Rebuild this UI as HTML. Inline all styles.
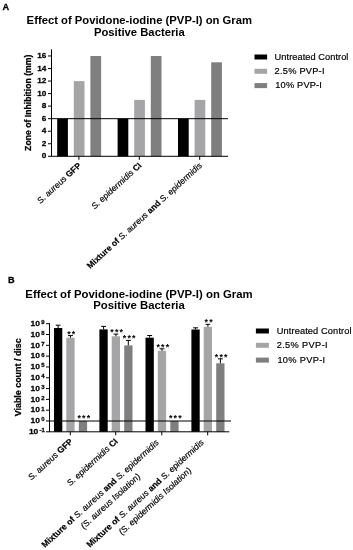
<!DOCTYPE html><html><head><meta charset="utf-8"><title>Figure</title><style>
html,body{margin:0;padding:0;background:#fff}
svg{display:block}
text{font-family:"Liberation Sans",Arial,sans-serif;fill:#000}
.b{font-weight:bold}.sl{stroke:#000;stroke-width:.18px}.st{letter-spacing:1.1px}.sk{stroke:#000;stroke-width:.25px}.i{font-style:italic}
</style></head><body>
<svg width="353" height="550" viewBox="0 0 353 550">
<rect width="353" height="550" fill="#fff"/>
<text class="b sk" font-size="8.6" transform="translate(2.50 9.80) scale(1.07 1)" xml:space="preserve">A</text>
<text class="b" font-size="10.54" text-anchor="middle" transform="translate(139.30 23.90) scale(1.07 1)" xml:space="preserve">Effect of Povidone-iodine (PVP-I) on Gram</text>
<text class="b" font-size="10.54" text-anchor="middle" transform="translate(139.30 35.70) scale(1.07 1)" xml:space="preserve">Positive Bacteria</text>
<rect x="57.2" y="118.7" width="10.7" height="37.6" fill="#000"/>
<rect x="73.8" y="81.1" width="10.7" height="75.2" fill="#a5a5a7"/>
<rect x="90.4" y="56.0" width="10.7" height="100.3" fill="#7f7f7f"/>
<rect x="117.6" y="118.7" width="10.7" height="37.6" fill="#000"/>
<rect x="134.2" y="99.9" width="10.7" height="56.4" fill="#a5a5a7"/>
<rect x="150.8" y="56.0" width="10.7" height="100.3" fill="#7f7f7f"/>
<rect x="178.0" y="118.7" width="10.7" height="37.6" fill="#000"/>
<rect x="194.6" y="99.9" width="10.7" height="56.4" fill="#a5a5a7"/>
<rect x="211.2" y="62.3" width="10.7" height="94.0" fill="#7f7f7f"/>
<g stroke="#000" stroke-width="1" fill="none">
<path d="M51.5 49.3V156.3H228"/>
<path d="M51.5 118.68H228"/>
<path d="M48.0 156.30H51.5"/>
<path d="M48.0 143.76H51.5"/>
<path d="M48.0 131.22H51.5"/>
<path d="M48.0 118.68H51.5"/>
<path d="M48.0 106.14H51.5"/>
<path d="M48.0 93.60H51.5"/>
<path d="M48.0 81.06H51.5"/>
<path d="M48.0 68.52H51.5"/>
<path d="M48.0 55.98H51.5"/>
<path d="M78.9 156.3v3.5"/>
<path d="M139.3 156.3v3.5"/>
<path d="M199.7 156.3v3.5"/>
</g>
<text class="b sk" font-size="7.7" text-anchor="end" transform="translate(46.30 158.40) scale(1.07 1)" xml:space="preserve">0</text>
<text class="b sk" font-size="7.7" text-anchor="end" transform="translate(46.30 145.86) scale(1.07 1)" xml:space="preserve">2</text>
<text class="b sk" font-size="7.7" text-anchor="end" transform="translate(46.30 133.32) scale(1.07 1)" xml:space="preserve">4</text>
<text class="b sk" font-size="7.7" text-anchor="end" transform="translate(46.30 120.78) scale(1.07 1)" xml:space="preserve">6</text>
<text class="b sk" font-size="7.7" text-anchor="end" transform="translate(46.30 108.24) scale(1.07 1)" xml:space="preserve">8</text>
<text class="b sk" font-size="7.7" text-anchor="end" transform="translate(46.30 95.70) scale(1.07 1)" xml:space="preserve">10</text>
<text class="b sk" font-size="7.7" text-anchor="end" transform="translate(46.30 83.16) scale(1.07 1)" xml:space="preserve">12</text>
<text class="b sk" font-size="7.7" text-anchor="end" transform="translate(46.30 70.62) scale(1.07 1)" xml:space="preserve">14</text>
<text class="b sk" font-size="7.7" text-anchor="end" transform="translate(46.30 58.08) scale(1.07 1)" xml:space="preserve">16</text>
<text class="b sk" font-size="8.67" text-anchor="middle" transform="translate(30.70 102.80) scale(1.07 1) rotate(-90)" xml:space="preserve">Zone of Inhibition (mm)</text>
<text class="sl" font-size="8.17" text-anchor="end" transform="translate(81.80 166.10) scale(1.07 1) rotate(-44.4)" xml:space="preserve"><tspan class="i">S. aureus </tspan><tspan class="b">GFP</tspan></text>
<text class="sl" font-size="8.17" text-anchor="end" transform="translate(142.20 166.10) scale(1.07 1) rotate(-44.4)" xml:space="preserve"><tspan class="i">S. epidermidis </tspan><tspan class="b">CI</tspan></text>
<text class="sl" font-size="8.17" text-anchor="end" transform="translate(202.60 166.10) scale(1.07 1) rotate(-44.4)" xml:space="preserve"><tspan class="b">Mixture of </tspan><tspan class="i">S. aureus </tspan><tspan class="b">and </tspan><tspan class="i">S. epidermidis</tspan></text>
<rect x="254.5" y="54.5" width="12.6" height="5" fill="#000"/>
<text class="sl" font-size="8.65" textLength="69.0" lengthAdjust="spacing" transform="translate(274.60 59.70) scale(1.07 1)" xml:space="preserve">Untreated Control</text>
<rect x="254.5" y="68.8" width="12.6" height="5" fill="#a5a5a7"/>
<text class="sl" font-size="8.65" textLength="46.6" lengthAdjust="spacing" transform="translate(274.60 74.00) scale(1.07 1)" xml:space="preserve">2.5% PVP-I</text>
<rect x="254.5" y="83.1" width="12.6" height="5" fill="#7f7f7f"/>
<text class="sl" font-size="8.65" textLength="43.6" lengthAdjust="spacing" transform="translate(275.30 88.30) scale(1.07 1)" xml:space="preserve">10% PVP-I</text>
<text class="b sk" font-size="8.6" transform="translate(7.90 283.30) scale(1.07 1)" xml:space="preserve">B</text>
<text class="b" font-size="10.64" text-anchor="middle" transform="translate(139.00 297.60) scale(1.07 1)" xml:space="preserve">Effect of Povidone-iodine (PVP-I) on Gram</text>
<text class="b" font-size="10.64" text-anchor="middle" transform="translate(139.00 309.40) scale(1.07 1)" xml:space="preserve">Positive Bacteria</text>
<rect x="54.0" y="328.0" width="8.3" height="103.8" fill="#000"/>
<path d="M58.1 328.0V325.2M55.8 325.2H60.5" stroke="#000" stroke-width="1" fill="none"/>
<rect x="66.3" y="337.7" width="8.3" height="94.1" fill="#a5a5a7"/>
<path d="M70.5 337.7V335.6M68.0 335.6H72.9" stroke="#000" stroke-width="1" fill="none"/>
<text class="b st" font-size="8.3" text-anchor="middle" transform="translate(71.85 336.60) scale(1.07 1)" xml:space="preserve">**</text>
<rect x="78.8" y="421.0" width="8.3" height="10.8" fill="#7f7f7f"/>
<text class="b st" font-size="8.3" text-anchor="middle" transform="translate(84.35 421.25) scale(1.07 1)" xml:space="preserve">***</text>
<rect x="99.4" y="329.4" width="8.3" height="102.4" fill="#000"/>
<path d="M103.6 329.4V326.4M101.2 326.4H106.0" stroke="#000" stroke-width="1" fill="none"/>
<rect x="111.7" y="336.3" width="8.3" height="95.5" fill="#a5a5a7"/>
<path d="M115.9 336.3V334.1M113.5 334.1H118.3" stroke="#000" stroke-width="1" fill="none"/>
<text class="b st" font-size="8.3" text-anchor="middle" transform="translate(117.25 335.10) scale(1.07 1)" xml:space="preserve">***</text>
<rect x="124.2" y="345.4" width="8.3" height="86.4" fill="#7f7f7f"/>
<path d="M128.3 345.4V340.4M125.9 340.4H130.8" stroke="#000" stroke-width="1" fill="none"/>
<text class="b st" font-size="8.3" text-anchor="middle" transform="translate(129.75 341.40) scale(1.07 1)" xml:space="preserve">***</text>
<rect x="145.5" y="337.7" width="8.3" height="94.1" fill="#000"/>
<path d="M149.7 337.7V335.5M147.2 335.5H152.1" stroke="#000" stroke-width="1" fill="none"/>
<rect x="157.8" y="350.8" width="8.3" height="81.0" fill="#a5a5a7"/>
<path d="M162.0 350.8V348.8M159.6 348.8H164.4" stroke="#000" stroke-width="1" fill="none"/>
<text class="b st" font-size="8.3" text-anchor="middle" transform="translate(163.35 349.80) scale(1.07 1)" xml:space="preserve">***</text>
<rect x="170.3" y="421.0" width="8.3" height="10.8" fill="#7f7f7f"/>
<text class="b st" font-size="8.3" text-anchor="middle" transform="translate(175.85 421.25) scale(1.07 1)" xml:space="preserve">***</text>
<rect x="191.4" y="329.5" width="8.3" height="102.3" fill="#000"/>
<path d="M195.6 329.5V327.8M193.2 327.8H198.0" stroke="#000" stroke-width="1" fill="none"/>
<rect x="203.7" y="326.8" width="8.3" height="105.0" fill="#a5a5a7"/>
<path d="M207.9 326.8V324.3M205.5 324.3H210.3" stroke="#000" stroke-width="1" fill="none"/>
<text class="b st" font-size="8.3" text-anchor="middle" transform="translate(209.25 325.30) scale(1.07 1)" xml:space="preserve">**</text>
<rect x="216.2" y="363.3" width="8.3" height="68.5" fill="#7f7f7f"/>
<path d="M220.4 363.3V358.8M218.0 358.8H222.8" stroke="#000" stroke-width="1" fill="none"/>
<text class="b st" font-size="8.3" text-anchor="middle" transform="translate(221.75 359.80) scale(1.07 1)" xml:space="preserve">***</text>
<g stroke="#000" stroke-width="1" fill="none">
<path d="M49.5 323.2V431.8H229.2"/>
<path d="M49.5 421.0H231"/>
<path d="M46.0 431.80H49.5"/>
<path d="M46.0 420.99H49.5"/>
<path d="M46.0 410.18H49.5"/>
<path d="M46.0 399.37H49.5"/>
<path d="M46.0 388.56H49.5"/>
<path d="M46.0 377.75H49.5"/>
<path d="M46.0 366.94H49.5"/>
<path d="M46.0 356.13H49.5"/>
<path d="M46.0 345.32H49.5"/>
<path d="M46.0 334.51H49.5"/>
<path d="M46.0 323.70H49.5"/>
<path d="M70.3 431.8v3.5"/>
<path d="M115.7 431.8v3.5"/>
<path d="M161.8 431.8v3.5"/>
<path d="M207.7 431.8v3.5"/>
</g>
<text class="b sk" font-size="7.9" text-anchor="end" transform="translate(38.30 434.10) scale(1.07 1)" xml:space="preserve">10</text>
<text class="b sk" font-size="5.6" transform="translate(39.60 432.30) scale(1.07 1)" xml:space="preserve">-1</text>
<text class="b sk" font-size="7.9" text-anchor="end" transform="translate(39.90 423.29) scale(1.07 1)" xml:space="preserve">10</text>
<text class="b sk" font-size="5.6" transform="translate(41.20 421.49) scale(1.07 1)" xml:space="preserve">0</text>
<text class="b sk" font-size="7.9" text-anchor="end" transform="translate(39.90 412.48) scale(1.07 1)" xml:space="preserve">10</text>
<text class="b sk" font-size="5.6" transform="translate(41.20 410.68) scale(1.07 1)" xml:space="preserve">1</text>
<text class="b sk" font-size="7.9" text-anchor="end" transform="translate(39.90 401.67) scale(1.07 1)" xml:space="preserve">10</text>
<text class="b sk" font-size="5.6" transform="translate(41.20 399.87) scale(1.07 1)" xml:space="preserve">2</text>
<text class="b sk" font-size="7.9" text-anchor="end" transform="translate(39.90 390.86) scale(1.07 1)" xml:space="preserve">10</text>
<text class="b sk" font-size="5.6" transform="translate(41.20 389.06) scale(1.07 1)" xml:space="preserve">3</text>
<text class="b sk" font-size="7.9" text-anchor="end" transform="translate(39.90 380.05) scale(1.07 1)" xml:space="preserve">10</text>
<text class="b sk" font-size="5.6" transform="translate(41.20 378.25) scale(1.07 1)" xml:space="preserve">4</text>
<text class="b sk" font-size="7.9" text-anchor="end" transform="translate(39.90 369.24) scale(1.07 1)" xml:space="preserve">10</text>
<text class="b sk" font-size="5.6" transform="translate(41.20 367.44) scale(1.07 1)" xml:space="preserve">5</text>
<text class="b sk" font-size="7.9" text-anchor="end" transform="translate(39.90 358.43) scale(1.07 1)" xml:space="preserve">10</text>
<text class="b sk" font-size="5.6" transform="translate(41.20 356.63) scale(1.07 1)" xml:space="preserve">6</text>
<text class="b sk" font-size="7.9" text-anchor="end" transform="translate(39.90 347.62) scale(1.07 1)" xml:space="preserve">10</text>
<text class="b sk" font-size="5.6" transform="translate(41.20 345.82) scale(1.07 1)" xml:space="preserve">7</text>
<text class="b sk" font-size="7.9" text-anchor="end" transform="translate(39.90 336.81) scale(1.07 1)" xml:space="preserve">10</text>
<text class="b sk" font-size="5.6" transform="translate(41.20 335.01) scale(1.07 1)" xml:space="preserve">8</text>
<text class="b sk" font-size="7.9" text-anchor="end" transform="translate(39.90 326.00) scale(1.07 1)" xml:space="preserve">10</text>
<text class="b sk" font-size="5.6" transform="translate(41.20 324.20) scale(1.07 1)" xml:space="preserve">9</text>
<text class="b sk" font-size="8.92" text-anchor="middle" transform="translate(20.90 377.30) scale(1.07 1) rotate(-90)" xml:space="preserve">Viable count / disc</text>
<text class="sl" font-size="8.33" text-anchor="end" transform="translate(73.60 442.10) scale(1.07 1) rotate(-44.4)" xml:space="preserve"><tspan class="i">S. aureus </tspan><tspan class="b">GFP</tspan></text>
<text class="sl" font-size="8.33" text-anchor="end" transform="translate(118.60 442.00) scale(1.07 1) rotate(-44.4)" xml:space="preserve"><tspan class="i">S. epidermidis </tspan><tspan class="b">CI</tspan></text>
<text class="sl" font-size="8.33" text-anchor="end" transform="translate(159.50 443.20) scale(1.07 1) rotate(-44.4)" xml:space="preserve"><tspan class="b">Mixture of </tspan><tspan class="i">S. aureus </tspan><tspan class="b">and </tspan><tspan class="i">S. epidermidis</tspan></text>
<text class="sl" font-size="8.33" text-anchor="end" transform="translate(141.00 477.10) scale(1.07 1) rotate(-44.4)" xml:space="preserve"><tspan class="i">(S. aureus Isolation)</tspan></text>
<text class="sl" font-size="8.33" text-anchor="end" transform="translate(204.50 443.10) scale(1.07 1) rotate(-44.4)" xml:space="preserve"><tspan class="b">Mixture of </tspan><tspan class="i">S. aureus </tspan><tspan class="b">and </tspan><tspan class="i">S. epidermidis</tspan></text>
<text class="sl" font-size="8.33" text-anchor="end" transform="translate(192.00 471.10) scale(1.07 1) rotate(-44.4)" xml:space="preserve"><tspan class="i">(S. epidermidis Isolation)</tspan></text>
<rect x="255.9" y="328.5" width="13.0" height="5" fill="#000"/>
<text class="sl" font-size="8.65" textLength="70.0" lengthAdjust="spacing" transform="translate(276.70 333.70) scale(1.07 1)" xml:space="preserve">Untreated Control</text>
<rect x="255.9" y="342.8" width="13.0" height="5" fill="#a5a5a7"/>
<text class="sl" font-size="8.65" textLength="47.6" lengthAdjust="spacing" transform="translate(276.70 348.00) scale(1.07 1)" xml:space="preserve">2.5% PVP-I</text>
<rect x="255.9" y="357.6" width="13.0" height="5" fill="#7f7f7f"/>
<text class="sl" font-size="8.65" textLength="44.6" lengthAdjust="spacing" transform="translate(277.40 362.80) scale(1.07 1)" xml:space="preserve">10% PVP-I</text>
</svg></body></html>
